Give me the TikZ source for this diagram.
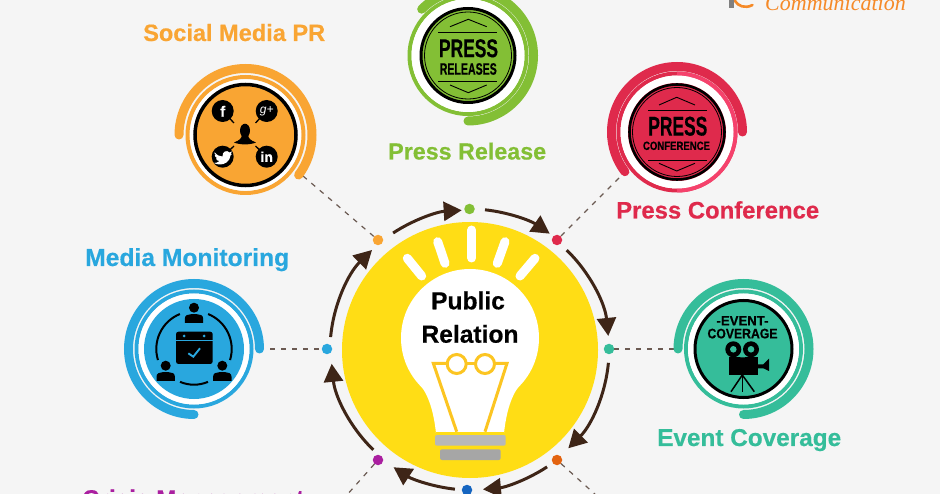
\documentclass[tikz,border=0pt]{standalone}
\usepackage{fontspec}
\usepackage{graphicx}
\setmainfont{Liberation Sans}[BoldFeatures={FakeBold=0.45}]
\newfontfamily\logofont{Liberation Serif}
\usetikzlibrary{arrows.meta}
\definecolor{bgc}{HTML}{F5F5F5}
\definecolor{hubc}{HTML}{FFDD15}
\definecolor{socc}{HTML}{F9A533}
\definecolor{relc}{HTML}{83BF35}
\definecolor{conc}{HTML}{DF2A4C}
\definecolor{conl}{HTML}{F5426C}
\definecolor{monc}{HTML}{29A7DE}
\definecolor{evec}{HTML}{35BD9A}
\definecolor{crisc}{HTML}{AA1FA0}
\definecolor{darkor}{HTML}{E3630F}
\definecolor{bluec}{HTML}{1565C0}
\definecolor{brownc}{HTML}{3E2517}
\definecolor{glassc}{HTML}{FCC522}
\definecolor{dashc}{HTML}{6B5A52}
\definecolor{logoc}{HTML}{F58A28}
\tikzset{
  lbl/.style={anchor=base west,inner sep=0pt,font=\fontsize{23.8}{28}\selectfont\bfseries},
  hubtext/.style={anchor=base,inner sep=0pt,font=\fontsize{24.6}{28}\selectfont\bfseries},
  dotn/.style={circle,minimum size=10.5pt,inner sep=0pt,fill=#1},
  flow/.style={draw=brownc,line width=3pt,-{Triangle[length=18pt,width=19pt]}},
  dashl/.style={draw=dashc,line width=1.2pt,dash pattern=on 5pt off 6pt},
  outerarc/.style={line width=9pt,line cap=round,draw=#1},
  thinring/.style={line width=4pt,draw=#1},
  ray/.style={draw=white,line width=9pt,line cap=round},
  glass/.style={draw=glassc,line width=3pt},
  stamp/.style={inner sep=0pt,text=black,font=\bfseries},
  rule/.style={draw=black,line width=.9pt},
  glyphw/.style={inner sep=0pt,text=white,font=\bfseries},
}
\begin{document}
\begin{tikzpicture}[x=1pt,y=-1pt]
\clip (0,0) rectangle (940,494);
\fill[bgc] (0,0) rectangle (940,494);

% centres
\coordinate (cSoc) at (245.5,135);
\coordinate (cRel) at (468,55.5);
\coordinate (cCon) at (677,132);
\coordinate (cMon) at (194,349);
\coordinate (cEve) at (743.5,349);
\coordinate (cHub) at (470,350);

% ---------- hub and bulb
\node[circle,fill=hubc,minimum size=256pt,inner sep=0pt] (hub) at (470,350) {};
\fill[white] (470,338) circle (69);
\fill[white] (421,386) .. controls (430,398) and (434,415) .. (436,433) -- (504,433)
  .. controls (506,415) and (510,398) .. (519,386) -- cycle;
\draw[ray] (471.7,230) -- (471.7,258);
\draw[ray] (437.7,241.7) -- (445,263.3);
\draw[ray] (505,241.7) -- (497.3,263.3);
\draw[ray] (407.3,258.3) -- (421.7,276);
\draw[ray] (535,258.3) -- (520,276);
\draw[glass] (456.7,364) circle (9.5);
\draw[glass] (485,364) circle (9.5);
\draw[glass] (466.2,364) -- (475.5,364);
\draw[glass,line join=miter] (447.2,363.3) -- (433.3,363.3) -- (456.7,431.7);
\draw[glass,line join=miter] (494.5,363.3) -- (507,363.3) -- (485,431.7);
\fill[hubc] (436,431.7) rectangle (504,434);
\fill[black!28!white,rounded corners=2pt] (435,435) rectangle (505.7,445.7);
\fill[black!35!white,rounded corners=2pt] (440,449.3) rectangle (500.7,460);
\node[hubtext] (pub) at (468,309.3) {Public};
\node[hubtext] (rel) at (470,342.7) {Relation};

% ---------- dots
\node[dotn=relc] (dRel) at (469.5,209) {};
\node[dotn=conc] (dCon) at (557,240) {};
\node[dotn=evec] (dEve) at (609,349) {};
\node[dotn=darkor] (dOr) at (557,460) {};
\node[dotn=bluec] (dBl) at (467,490) {};
\node[dotn=crisc] (dCr) at (378,460) {};
\node[dotn=monc] (dMon) at (327,349) {};
\node[dotn=socc] (dSoc) at (378,240) {};

% ---------- flow arrows round the hub
\draw[flow] ([shift={(236.7:140)}]cHub) arc[start angle=236.7,end angle=266.6,radius=140];
\draw[flow] ([shift={(-83.9:141)}]cHub) arc[start angle=-83.9,end angle=-55.6,radius=141];
\draw[flow] ([shift={(-45.9:139)}]cHub) arc[start angle=-45.9,end angle=-5.8,radius=139];
\draw[flow] ([shift={(5.3:139)}]cHub) arc[start angle=5.3,end angle=45,radius=139];
\draw[flow] ([shift={(56.6:140)}]cHub) arc[start angle=56.6,end angle=84.7,radius=140];
\draw[flow] ([shift={(96.2:140)}]cHub) arc[start angle=96.2,end angle=123.1,radius=140];
\draw[flow] ([shift={(134.1:139)}]cHub) arc[start angle=134.1,end angle=174.3,radius=139];
\draw[flow] ([shift={(185.3:140)}]cHub) arc[start angle=185.3,end angle=225.6,radius=140];

% ---------- dashed connectors
\coordinate (eSoc) at (303,176);
\coordinate (eCon) at (619,178);
\coordinate (eMon) at (270,349);
\coordinate (eEve) at (676,349);
\coordinate (eCr) at (346,496);
\coordinate (eOr) at (597,496);
\draw[dashl] (eSoc) -- (dSoc);
\draw[dashl] (eCon) -- (dCon);
\draw[dashl] (eMon) -- (dMon);
\draw[dashl] (dEve) -- (eEve);
\draw[dashl] (dCr) -- (eCr);
\draw[dashl] (dOr) -- (eOr);

% ---------- Social Media PR badge
\draw[thinring=socc] (cSoc) circle (58);
\fill[white] (cSoc) circle (55.6);
\fill[socc] (cSoc) circle (50.5);
\draw[black,line width=3.5pt] (cSoc) circle (50.5);
\draw[outerarc=socc] ([shift={(180:66.5)}]cSoc) arc[start angle=180,end angle=397,radius=66.5];
\foreach \a/\b/\c/\d in {222.7/111/234/123,266.7/111/255.5/123,222.7/156.7/234/146,266.7/156.7/255.5/146}{
  \fill[black] (\a,\b) circle (11);
  \draw[black,line width=1.3pt] (\a,\b) -- (\c,\d);
}
\fill[black] (245,130.7) ellipse (5 and 7);
\fill[black] (234,142.5) .. controls (240,140) and (241,139) .. (242,135) -- (248,135)
  .. controls (249,139) and (250,140) .. (256,142.5) .. controls (250,145) and (240,145) .. (234,142.5) -- cycle;
\node[glyphw,font=\fontsize{15}{15}\selectfont\bfseries] (gf) at (222.7,111.3) {f};
\node[glyphw,font=\fontsize{12}{12}\selectfont\itshape,text=white] (gg) at (266.7,111) {g+};
\node[glyphw,font=\fontsize{14}{14}\selectfont\bfseries] (gi) at (266.7,156.7) {in};
\fill[white] (214.5,152) .. controls (217,155.5) and (220,156.5) .. (222.5,156.5)
  .. controls (222,151.5) and (227,149.5) .. (229.5,152.5) -- (232,151.5) -- (230.5,154) -- (232,153.8) -- (230.5,155.5)
  .. controls (230,161) and (225,165) .. (219,164.5) .. controls (217,164.2) and (215.5,163.8) .. (214,163)
  .. controls (216,163) and (218,162.5) .. (219.5,161) .. controls (217.5,161) and (216.5,160) .. (216,158.5)
  -- (217.5,158.5) .. controls (215.5,157.5) and (214.8,156) .. (214.8,155) -- (216.3,155.4) .. controls (214.5,154.5) and (214,153) .. (214.5,152) -- cycle;

% ---------- Press Release badge
\draw[thinring=relc] (cRel) circle (58.5);
\fill[white] (cRel) circle (56.5);
\fill[relc] (cRel) circle (47);
\draw[black,line width=3pt] (cRel) circle (47);
\draw[black,line width=.8pt] (cRel) circle (43.5);
\draw[outerarc=relc] ([shift={(225:65.5)}]cRel) arc[start angle=225,end angle=450,radius=65.5];
\draw[rule] (438,32.3) -- (497,32.3);
\draw[rule] (438,81.7) -- (497,81.7);
\draw[rule] (450,26.7) -- (468.3,19.3) -- (486.7,26.7);
\draw[rule] (450,85) -- (468.3,92.7) -- (486.7,85);
\node[stamp] (relA) at (468.5,48.3) {\resizebox{59pt}{18pt}{PRESS}};
\node[stamp] (relB) at (468.3,69) {\resizebox{57pt}{11.5pt}{RELEASES}};

% ---------- Press Conference badge
\draw[thinring=conc] (cCon) circle (58.5);
\draw[line width=4pt,draw=conl] ([shift={(-90:58.5)}]cCon) arc[start angle=-90,end angle=90,radius=58.5];
\fill[white] (cCon) circle (56.5);
\fill[conc] (cCon) circle (49);
\draw[black,line width=2.6pt] (cCon) circle (47.5);
\draw[black,line width=.8pt] (cCon) circle (44.5);
\draw[outerarc=conc] ([shift={(0:65.5)}]cCon) arc[start angle=360,end angle=142.7,radius=65.5];
\draw[rule] (648,110) -- (707,110);
\draw[rule] (648,160) -- (707,160);
\draw[rule] (659,105) -- (676.7,97.3) -- (695,105);
\draw[rule] (659,163.3) -- (676.7,171) -- (695,163.3);
\node[stamp] (conA) at (677.8,126.2) {\resizebox{59pt}{19pt}{PRESS}};
\node[stamp] (conB) at (676.5,145.8) {\resizebox{67pt}{8.3pt}{CONFERENCE}};

% ---------- Media Monitoring badge
\draw[thinring=monc] (cMon) circle (57.5);
\fill[white] (cMon) circle (55.5);
\fill[monc] (cMon) circle (50);
\draw[outerarc=monc] ([shift={(0:65.5)}]cMon) arc[start angle=360,end angle=90,radius=65.5];
\foreach \hx/\hy in {194/307.7,165.7/365.7,222.3/365.7}{
  \fill[black] (\hx,\hy) circle (5);
  \fill[black] (\hx-9.2,\hy+15.2) -- (\hx-9.2,\hy+11) .. controls (\hx-9.2,\hy+7.5) and (\hx-6,\hy+6.5) .. (\hx-3,\hy+6.5)
    -- (\hx+3,\hy+6.5) .. controls (\hx+6,\hy+6.5) and (\hx+9.2,\hy+7.5) .. (\hx+9.2,\hy+11) -- (\hx+9.2,\hy+15.2) -- cycle;
}
\draw[black,line width=2pt] ([shift={(248:37.7)}]cMon) arc[start angle=248,end angle=163,radius=37.7];
\draw[black,line width=2pt] ([shift={(-68:37.7)}]cMon) arc[start angle=-68,end angle=17,radius=37.7];
\draw[black,line width=2pt] ([shift={(113:35.7)}]cMon) arc[start angle=113,end angle=67,radius=35.7];
\fill[black,rounded corners=2.5pt] (176,331.7) rectangle (212.7,364);
\fill[monc] (184,336) circle (1.5);
\fill[monc] (204,336) circle (1.5);
\draw[monc,line width=.6pt] (176,340.5) -- (212.7,340.5);
\draw[monc,line width=1.9pt] (188.3,353.3) -- (193.3,356.7) -- (200,348.3);

% ---------- Event Coverage badge
\draw[thinring=evec] (cEve) circle (57.5);
\fill[white] (cEve) circle (55.5);
\fill[evec] (cEve) circle (48.5);
\draw[black,line width=3pt] (cEve) circle (48.5);
\draw[outerarc=evec] ([shift={(180:65.5)}]cEve) arc[start angle=180,end angle=450,radius=65.5];
\node[stamp] (eveA) at (742.5,320.7) {\resizebox{52pt}{9.2pt}{-EVENT-}};
\node[stamp] (eveB) at (742.5,333.6) {\resizebox{70pt}{9.6pt}{COVERAGE}};
\fill[black] (733.3,349.3) circle (8);
\fill[black] (751,349.3) circle (8);
\fill[evec] (733.3,349.3) circle (3.3);
\fill[evec] (751,349.3) circle (3.3);
\fill[black] (729.3,357.3) rectangle (757.7,375);
\fill[black] (757.7,364.3) -- (763.3,364.3) -- (769,358.7) -- (769,371) -- (763.3,368.3) -- (757.7,368.3) -- cycle;
\fill[evec] (742.7,353.5) -- (745,357.3) -- (740.4,357.3) -- cycle;
\draw[black,line width=1.5pt] (731,391.7) -- (742.3,375) -- (754.3,391.7);
\draw[black,line width=1.5pt] (742.3,375) -- (742.3,391.7);

% ---------- labels
\node[lbl,text=socc] (tSoc) at (143,41) {\resizebox{182pt}{!}{Social Media PR}};
\node[lbl,text=relc] (tRel) at (388,159.5) {\resizebox{158pt}{!}{Press Release}};
\node[lbl,text=conc] (tCon) at (616,218.5) {\resizebox{203pt}{!}{Press Conference}};
\node[lbl,text=monc] (tMon) at (85,266) {\resizebox{204pt}{!}{Media Monitoring}};
\node[lbl,text=evec] (tEve) at (657,446) {\resizebox{184pt}{!}{Event Coverage}};
\node[lbl,text=crisc] (tCr) at (82,507) {\resizebox{222pt}{!}{Crisis Management}};

% ---------- logo (cut off by the top edge)
\fill[black!50!white] (729,-2) rectangle (734,8.3);
\draw[logoc,line width=2.6pt,line cap=round] (735,1) .. controls (738,6) and (745,9) .. (752.5,5);
\node[anchor=base west,inner sep=0pt,text=logoc,font=\logofont\itshape\fontsize{22}{22}\selectfont] (logo) at (765,11) {Communication};
\end{tikzpicture}
\end{document}
